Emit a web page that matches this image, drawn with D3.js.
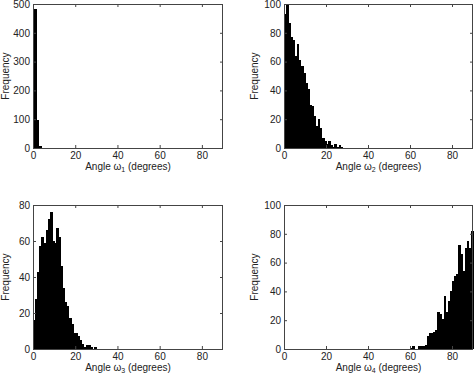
<!DOCTYPE html>
<html><head><meta charset="utf-8">
<script src="https://cdn.jsdelivr.net/npm/d3@7"></script>
<style>
body{margin:0;background:#fff}
svg{display:block}
text{font-family:"Liberation Sans",Arial,Helvetica,sans-serif;fill:#222}
</style>
</head><body>
<svg id="c" width="474" height="376"></svg>
<script>
// ---- data ----
const xTicks = [0, 20, 40, 60, 80];
const xDomain = [0, 90];

// omega 1: three narrow bins near zero
const edges1 = [0, 1.75, 2.75, 3.75];
const counts1 = [481, 97, 8];
const yTicks1 = [0, 100, 200, 300, 400, 500];

// omega 2: 1-degree bins starting at 0
const firstBin2 = 0;
const counts2 = [93, 99, 87, 77, 75, 64, 72, 61, 57, 52, 45, 41, 30, 29, 22, 15, 20, 14, 7, 5, 3, 5, 2, 1, 3, 1, 2, 1];
const yTicks2 = [0, 20, 40, 60, 80, 100];

// omega 3: 1-degree bins starting at 0
const firstBin3 = 0;
const counts3 = [16, 28, 43, 57, 62, 59, 66, 72, 76, 60, 59, 67, 62, 46, 34, 26, 24, 17, 14, 9, 9, 7, 5, 3, 1, 2, 2, 1, 0, 1];
const yTicks3 = [0, 20, 40, 60, 80];

// omega 4: 1-degree bins starting at 60
const firstBin4 = 60;
const counts4 = [1, 2, 0, 0, 2, 2, 2, 3, 9, 11, 11, 12, 13, 26, 24, 21, 37, 26, 33, 40, 47, 51, 52, 72, 66, 54, 70, 75, 70, 82];
const yTicks4 = [0, 20, 40, 60, 80, 100];

const subscripts = ["1", "2", "3", "4"];
const yMaxes = [500, 100, 80, 100];

// ---- build bins ----
function unitBins(first, counts) {
  return counts.map((c, i) => ({x0: first + i, x1: first + i + 1, c}));
}
const bins1 = counts1.map((c, i) => ({x0: edges1[i], x1: edges1[i + 1], c}));
const allBins = [bins1, unitBins(firstBin2, counts2), unitBins(firstBin3, counts3), unitBins(firstBin4, counts4)];
const allYTicks = [yTicks1, yTicks2, yTicks3, yTicks4];

// ---- layout ----
const boxes = [
  {l: 33, r: 223, t: 4, b: 148, ylab: 5},
  {l: 284, r: 473, t: 4, b: 148, ylab: 254},
  {l: 33, r: 223, t: 205, b: 349, ylab: 5},
  {l: 284, r: 473, t: 205, b: 349, ylab: 254}
];

const svg = d3.select("#c");
const boxColor = "#444";
const tickLen = 3;

boxes.forEach((bx, k) => {
  const g = svg.append("g");
  const xs = d3.scaleLinear().domain(xDomain).range([bx.l, bx.r]);
  const ys = d3.scaleLinear().domain([0, yMaxes[k]]).range([bx.b, bx.t]);

  // bars (slight overlap so neighbouring bars merge into a solid silhouette)
  g.append("g").attr("shape-rendering", "crispEdges")
    .selectAll("rect").data(allBins[k].filter(d => d.c > 0)).join("rect")
    .attr("x", d => xs(d.x0))
    .attr("width", d => Math.max(0, xs(d.x1) - xs(d.x0)) + 0.6)
    .attr("y", d => ys(d.c))
    .attr("height", d => bx.b - ys(d.c))
    .attr("fill", "#000");

  // axes
  const axB = d3.axisBottom(xs).tickValues(xTicks).tickSize(-tickLen).tickPadding(4);
  const axT = d3.axisTop(xs).tickValues(xTicks).tickSize(-tickLen).tickFormat("");
  const axL = d3.axisLeft(ys).tickValues(allYTicks[k]).tickSize(-tickLen).tickPadding(3);
  const axR = d3.axisRight(ys).tickValues(allYTicks[k]).tickSize(-tickLen).tickFormat("");

  const style = sel => {
    sel.select(".domain").remove();
    sel.selectAll("line").attr("stroke", boxColor);
    sel.selectAll("text").attr("font-size", 10).attr("fill", "#222")
      .style("font-family", '"Liberation Sans",Arial,Helvetica,sans-serif');
  };
  g.append("g").attr("transform", `translate(0,${bx.b})`).call(axB).call(style);
  g.append("g").attr("transform", `translate(0,${bx.t})`).call(axT).call(style);
  g.append("g").attr("transform", `translate(${bx.l},0)`).call(axL).call(style);
  g.append("g").attr("transform", `translate(${bx.r},0)`).call(axR).call(style);

  // box
  g.append("rect")
    .attr("x", bx.l + 0.5).attr("y", bx.t + 0.5)
    .attr("width", bx.r - bx.l - 1).attr("height", bx.b - bx.t)
    .attr("fill", "none").attr("stroke", boxColor).attr("stroke-width", 1);

  // x label
  const xl = g.append("text")
    .attr("x", (bx.l + bx.r) / 2).attr("y", bx.b + 21.5)
    .attr("text-anchor", "middle").attr("font-size", 10);
  xl.append("tspan").text("Angle \u03C9");
  xl.append("tspan").attr("font-size", 7).attr("dy", 2.5).text(subscripts[k]);
  xl.append("tspan").attr("dy", -2.5).text(" (degrees)");

  // y label
  g.append("text")
    .attr("transform", `translate(${bx.ylab + 3.5},${(bx.t + bx.b) / 2}) rotate(-90)`)
    .attr("text-anchor", "middle").attr("font-size", 10)
    .text("Frequency");
});
</script>
</body></html>
